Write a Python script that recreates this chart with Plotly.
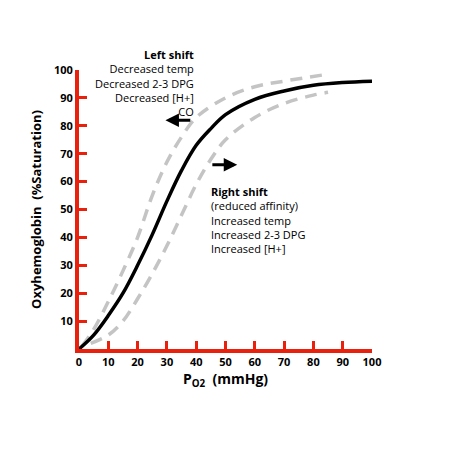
import plotly.graph_objects as go

# O2 dissociation curve
po2_normal = [0, 5, 10, 15, 20, 25, 30, 35, 40, 45, 50, 60, 70, 80, 90, 100]
sat_normal = [0, 5, 12, 20, 30, 41, 53, 64, 73, 79, 84, 89.5, 92.5, 94.5, 95.5, 96]

po2_left = [1, 5, 10, 15, 20, 25, 30, 35, 40, 50, 60, 70, 85]
sat_left = [1, 7, 17, 28, 40, 55, 67, 76, 83, 90, 94, 96, 98.5]

po2_right = [4, 10, 15, 20, 25, 30, 35, 40, 45, 50, 60, 70, 80, 85]
sat_right = [2, 5, 10, 18, 27, 37, 48, 59, 68, 75, 83, 88, 91, 92]

x_ticks = list(range(0, 101, 10))
y_ticks = list(range(10, 101, 10))

left_text = ["<b>Left shift</b>", "Decreased temp", "Decreased 2-3 DPG", "Decreased [H+]", "CO"]
right_text = ["<b>Right shift</b>", "(reduced affinity)", "Increased temp", "Increased 2-3 DPG", "Increased [H+]"]

RED = "#e8200c"
GREY = "#c4c4c4"

fig = go.Figure()
fig.add_trace(go.Scatter(x=po2_left, y=sat_left, mode="lines", line_shape="spline",
                         line=dict(color=GREY, width=3.5, dash="12px,8px")))
fig.add_trace(go.Scatter(x=po2_right, y=sat_right, mode="lines", line_shape="spline",
                         line=dict(color=GREY, width=3.5, dash="12px,8px")))
fig.add_trace(go.Scatter(x=po2_normal, y=sat_normal, mode="lines", line_shape="spline",
                         line=dict(color="black", width=3.5)))

fig.add_annotation(x=40, y=1.09, yref="paper", xanchor="right", yanchor="top", align="right",
                   text="<br>".join(left_text), showarrow=False,
                   font=dict(size=11, color="black"))
fig.add_annotation(x=44.5, y=60, xanchor="left", yanchor="top", align="left",
                   text="<br>".join(right_text), showarrow=False,
                   font=dict(size=11, color="black"))

# shift arrows
fig.add_annotation(x=29.5, y=82, ax=38.5, ay=82, axref="x", ayref="y", text="",
                   showarrow=True, arrowhead=2, arrowsize=0.9, arrowwidth=3, arrowcolor="black")
fig.add_annotation(x=54, y=66, ax=45, ay=66, axref="x", ayref="y", text="",
                   showarrow=True, arrowhead=2, arrowsize=0.9, arrowwidth=3, arrowcolor="black")

axis_style = dict(range=[0, 100], showgrid=False, zeroline=False,
                  showline=True, linecolor=RED, linewidth=4,
                  ticks="inside", ticklen=8, tickwidth=3, tickcolor=RED,
                  tickfont=dict(size=11, color="black", family="Open Sans"))
fig.update_xaxes(**axis_style, tickvals=x_ticks, ticktext=["<b>%d</b>" % v for v in x_ticks],
                 title=dict(text="<b>P<sub>O2</sub>  (mmHg)</b>", font=dict(size=14), standoff=6))
fig.update_yaxes(**axis_style, tickvals=y_ticks, ticktext=["<b>%d</b>" % v for v in y_ticks],
                 title=dict(text="<b>Oxyhemoglobin  (%Saturation)</b>", font=dict(size=13), standoff=10))

fig.update_layout(width=474, height=461, showlegend=False,
                  plot_bgcolor="white", paper_bgcolor="white",
                  margin=dict(l=71, r=110, t=62, b=120),
                  font=dict(family="Open Sans", color="black"))

fig.write_html("out.html")
